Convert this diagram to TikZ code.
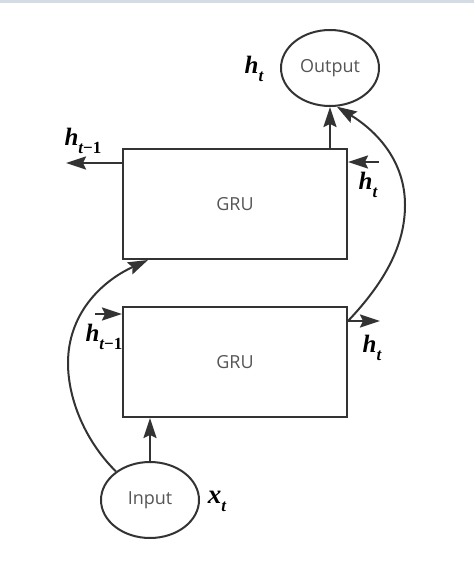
\documentclass[tikz,border=0pt]{standalone}
\usepackage{fontspec}
\setmainfont{Liberation Serif}
\newfontfamily\labsans{Open Sans}
\usetikzlibrary{arrows.meta,shapes.geometric}
\definecolor{ln}{HTML}{333333}
\definecolor{tx}{HTML}{555555}
\definecolor{band}{HTML}{D4DBE3}
\newcommand\hlab[1]{{\fontsize{25}{25}\selectfont\bfseries\itshape h\raisebox{-0.3em}{\fontsize{17}{17}\selectfont #1}}}
\begin{document}
\begin{tikzpicture}[x=1pt,y=-1pt,
  arr/.style={draw=ln,line width=2pt,-{Stealth[length=20pt,width=13pt,inset=3pt]}},
  gru/.style={draw=ln,line width=2pt,minimum width=224pt,minimum height=110pt,inner sep=0pt,font=\labsans\fontsize{18}{18}\selectfont,text=tx},
  circ/.style={draw=ln,line width=2pt,ellipse,minimum width=98pt,minimum height=76pt,inner sep=0pt,font=\labsans\fontsize{18}{18}\selectfont,text=tx},
  lab/.style={inner sep=0pt,text=black}]
\useasboundingbox (0,0) rectangle (474,567);
\fill[band] (0,0) rectangle (474,3);
\node[gru] (b1) at (235,204) {GRU};
\node[gru] (b2) at (235,362) {GRU};
\node[circ] (out) at (330,68) {Output};
\node[circ] (in) at (150,500) {Input};
% coordinates
\coordinate (l1) at (66,163);
\coordinate (r1) at (379,162);
\coordinate (l2) at (95,314);
\coordinate (r2) at (380,321);
\coordinate (mR) at (405,205);
\coordinate (mL) at (68,363);
% arrows
\draw[arr] (in.north) -- (b2.south -| in.north);
\draw[arr] (b1.north -| out.south) -- (out.south);
\draw[arr] (b1.west |- l1) -- (l1);
\draw[arr] (r1) -- (b1.east |- r1);
\draw[arr] (l2) -- (b2.west |- l2);
\draw[arr] (b2.east |- r2) -- (r2);
\draw[arr] (b2.east |- r2) .. controls (385,282) and (405,245) .. (mR)
  .. controls (405,162) and (378,132) .. (out.-80);
\draw[arr] (in.140) .. controls (86,442) and (68,400) .. (mL)
  .. controls (68,315) and (100,282) .. (b1.south -| 148,0);
% labels
\node[lab] (lh1) at (83,141) {\hlab{\itshape t\upshape −1}};
\node[lab] (lh2) at (368,185) {\hlab{\itshape t}};
\node[lab] (lh3) at (104,337) {\hlab{\itshape t\upshape −1}};
\node[lab] (lh4) at (372,348) {\hlab{\itshape t}};
\node[lab] (lh5) at (254,69) {\hlab{\itshape t}};
\node[lab] (lx) at (217,501) {{\fontsize{27}{27}\selectfont\bfseries\itshape x\raisebox{-0.3em}{\fontsize{17}{17}\selectfont t}}};
\end{tikzpicture}
\end{document}
